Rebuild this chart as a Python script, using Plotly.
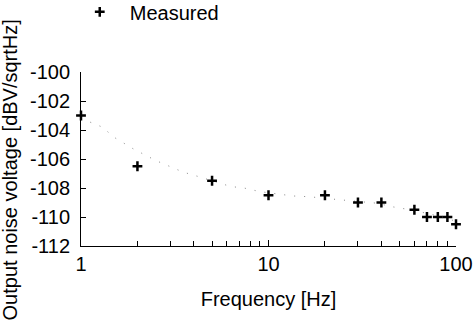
import plotly.graph_objects as go

# Measured output noise (dBV/sqrtHz) versus frequency (Hz)
freq_meas = [1, 2, 5, 10, 20, 30, 40, 60, 70, 80, 90, 100]
noise_meas = [-103.0, -106.5, -107.5, -108.5, -108.5, -109.0, -109.0,
              -109.5, -110.0, -110.0, -110.0, -110.5]

# Fitted noise curve (dotted)
freq_fit = [1, 1.3, 1.5, 1.9, 2.5, 3.5, 4.2, 6.3, 7.4, 9, 13.5, 16.4,
            23.5, 38, 46, 57, 70, 85, 100]
noise_fit = [-103.2, -103.8, -104.5, -105.3, -106.1, -106.9, -107.2,
             -107.9, -108.0, -108.25, -108.55, -108.6, -108.8, -109.05,
             -109.3, -109.5, -109.75, -110.0, -110.3]

y_ticks = [-112, -110, -108, -106, -104, -102, -100]
x_ticks = [1, 10, 100]

font = dict(family="Liberation Sans, Arial, sans-serif", size=20, color="black")

fig = go.Figure()
fig.add_trace(go.Scatter(
    x=freq_fit, y=noise_fit, mode="lines", showlegend=False,
    line=dict(color="#888888", width=1, dash="1px,9px"),
))
fig.add_trace(go.Scatter(
    x=freq_meas, y=noise_meas, mode="markers", name="Measured",
    marker=dict(symbol="cross-thin", size=7, color="black",
                line=dict(color="black", width=2.5)),
    cliponaxis=False,
))

fig.update_layout(
    width=474, height=331,
    margin=dict(l=81, r=18, t=72, b=85, autoexpand=False),
    paper_bgcolor="white", plot_bgcolor="white",
    font=font,
    showlegend=True,
    legend=dict(x=-0.03, y=1.458, xref="paper", yref="paper",
                xanchor="left", yanchor="top", bgcolor="rgba(0,0,0,0)",
                font=font, itemwidth=50, tracegroupgap=0),
    xaxis=dict(
        type="log", range=[0, 2],
        tickvals=x_ticks, ticktext=[str(v) for v in x_ticks],
        ticks="inside", ticklen=6, tickwidth=1, tickcolor="black",
        minor=dict(ticks="inside", ticklen=5, tickcolor="black",
                   dtick="D1", showgrid=False),
        showline=True, linecolor="black", linewidth=1,
        showgrid=False, zeroline=False,
        title=dict(text="Frequency [Hz]", font=font, standoff=17),
        tickfont=font,
    ),
    yaxis=dict(
        range=[-112, -100],
        tickvals=y_ticks, ticktext=[str(v) for v in y_ticks],
        ticks="inside", ticklen=5, tickwidth=1, tickcolor="black",
        showline=True, linecolor="black", linewidth=1,
        showgrid=False, zeroline=False,
        tickfont=font, ticklabelstandoff=6,
    ),
    annotations=[dict(
        text="Output noise voltage [dBV/sqrtHz]", textangle=-90,
        xref="paper", yref="paper", x=-0.189, y=0.435,
        xanchor="center", yanchor="middle", showarrow=False, font=font,
    )],
)

fig.write_html("out.html")
